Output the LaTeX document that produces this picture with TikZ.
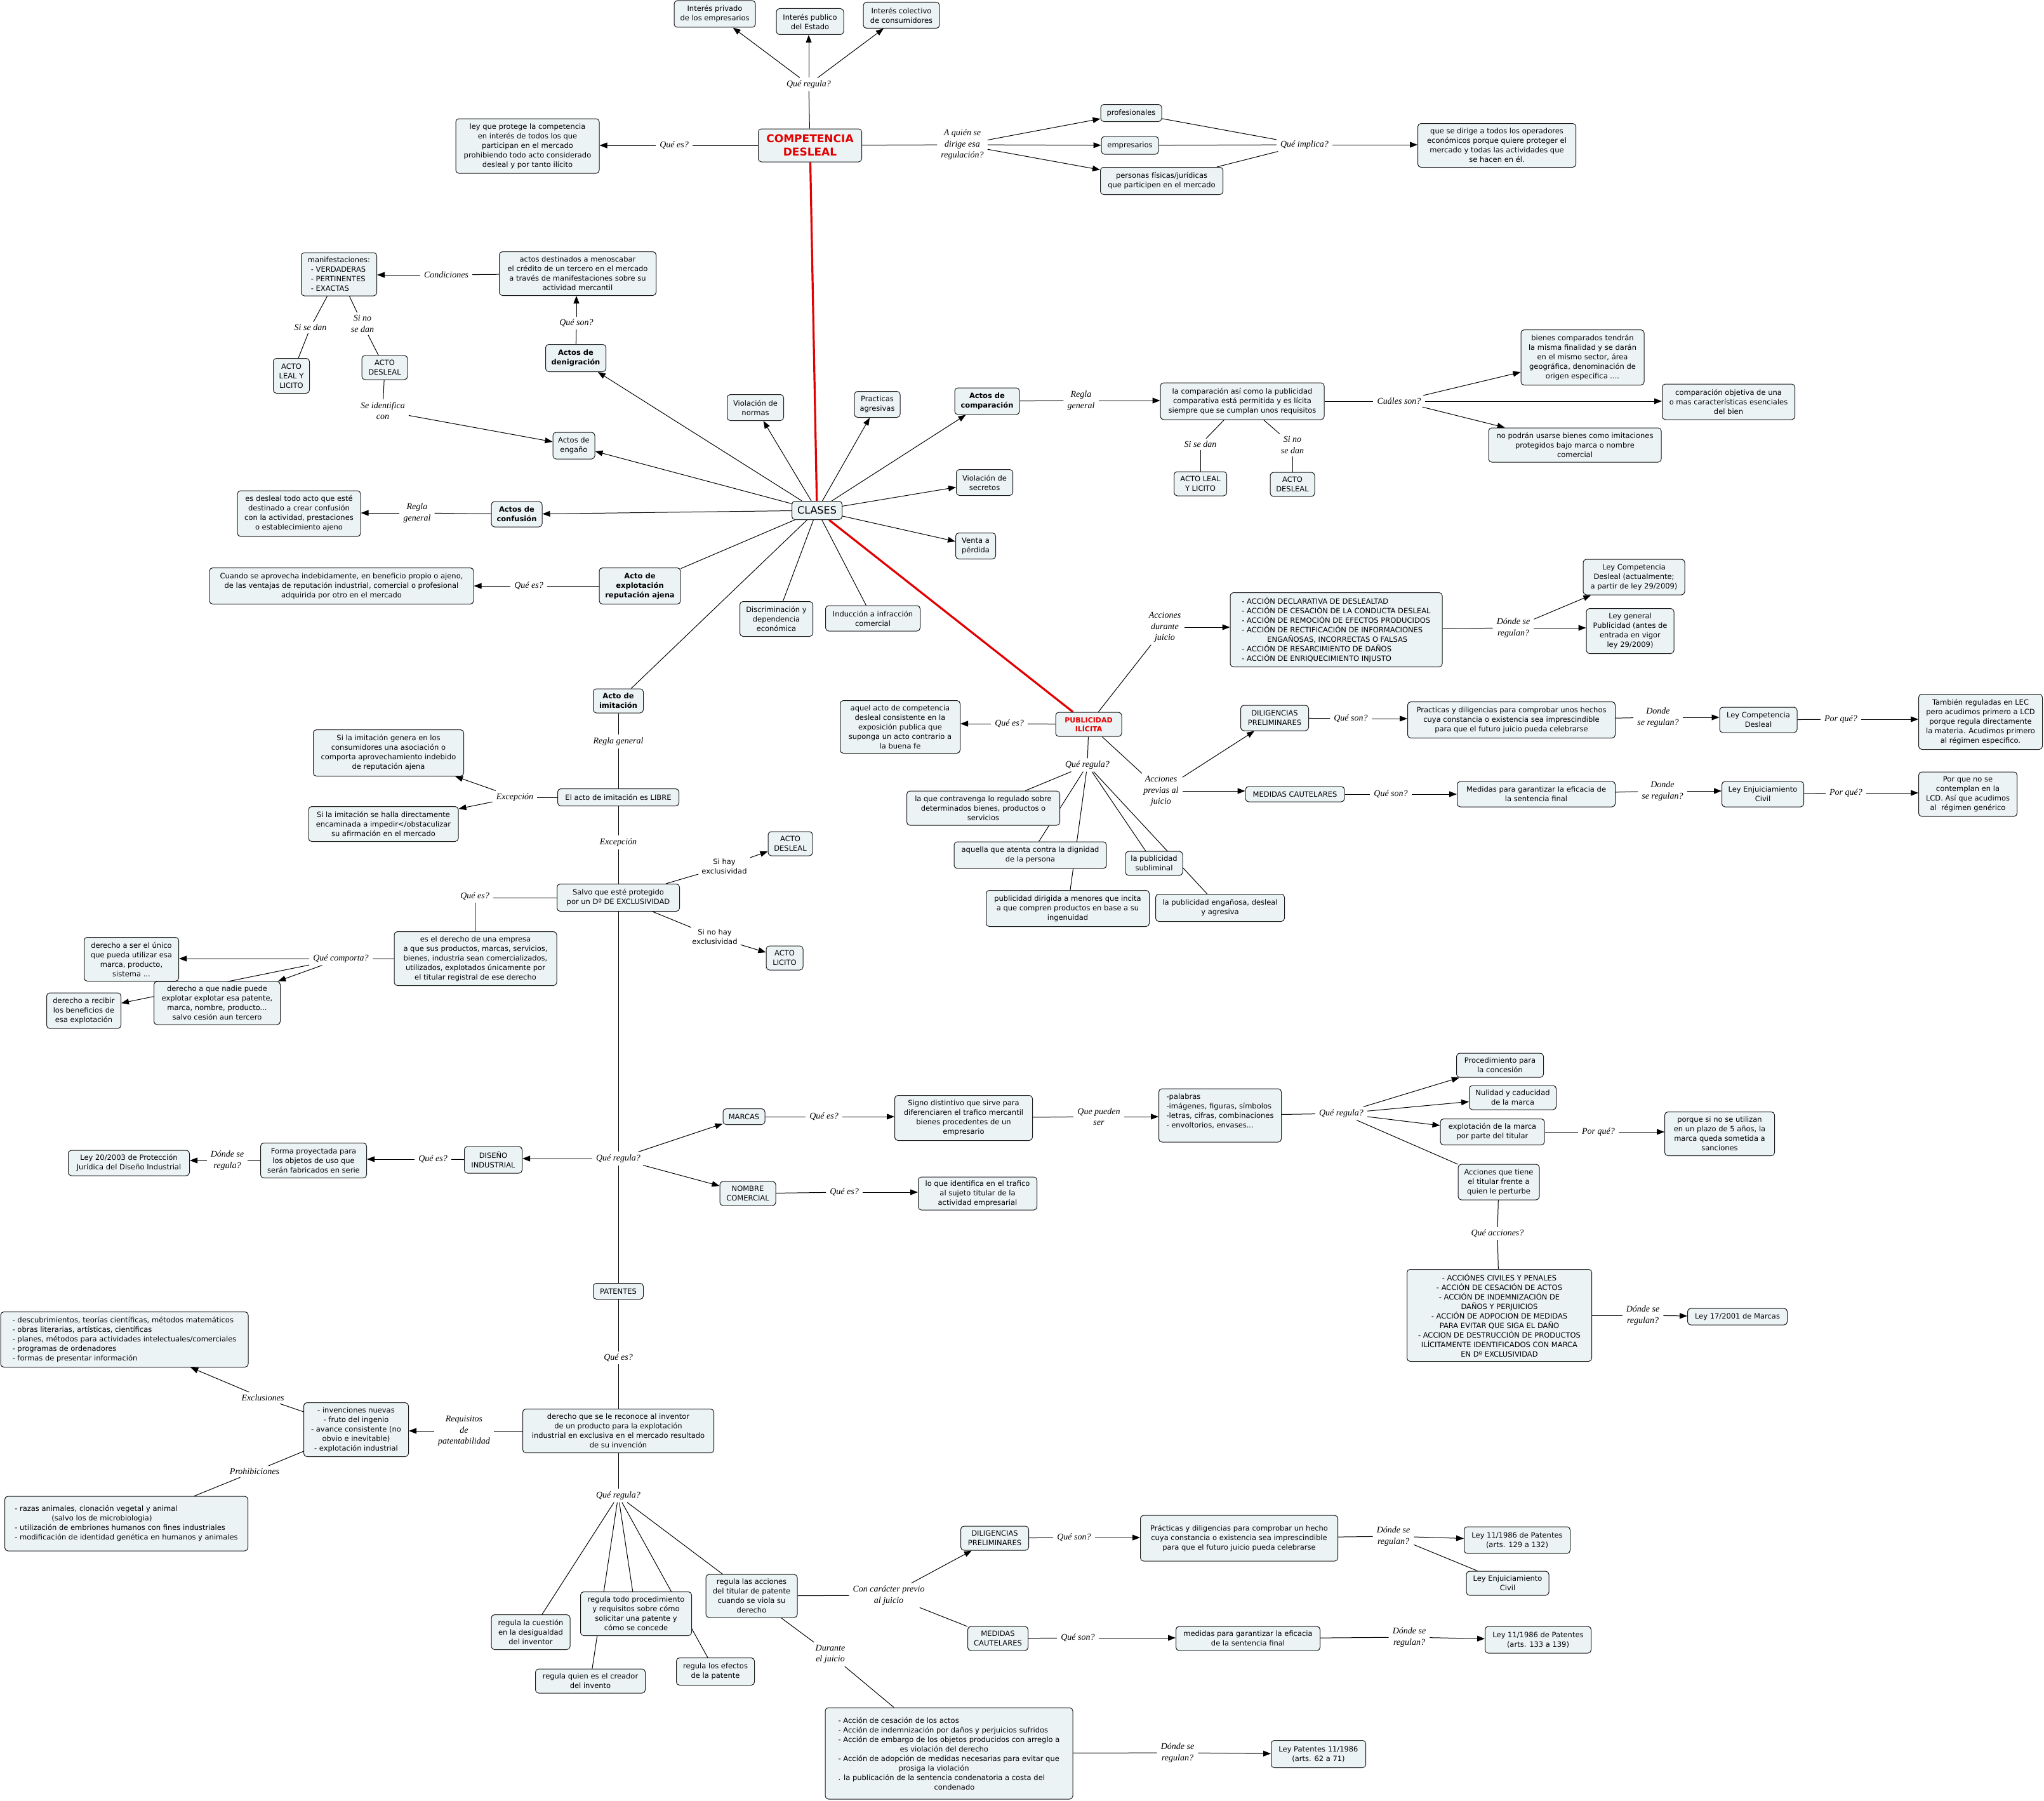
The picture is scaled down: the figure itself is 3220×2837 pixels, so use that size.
\documentclass[tikz,border=0pt]{standalone}
\usepackage{fontspec}
\newfontfamily\vfont{DejaVu Sans}
\newfontfamily\lfont{Liberation Serif}
\usetikzlibrary{arrows.meta}
\definecolor{boxfill}{RGB}{236,243,245}
\definecolor{mred}{RGB}{226,0,0}
\pgfdeclarelayer{edges}
\pgfsetlayers{edges,main}
\tikzset{
 bx/.style={draw=black!90, fill=boxfill, rounded corners=5pt, line width=1pt, align=center, inner xsep=3pt, inner ysep=2pt, font=\vfont\fontsize{11.5}{15}\selectfont},
 bb/.style={bx, font=\vfont\bfseries\fontsize{11.5}{15}\selectfont},
 sz/.style 2 args={minimum width=#1pt, minimum height=#2pt},
 lb/.style={align=center, inner xsep=6pt, inner ysep=4pt, font=\lfont\itshape\fontsize{14}{17.5}\selectfont},
 sl/.style={align=center, inner xsep=5pt, inner ysep=3pt, font=\vfont\fontsize{11.5}{15}\selectfont},
 ln/.style={line width=1pt},
 ar/.style={line width=1pt, -{Triangle[length=12pt,width=9pt]}},
 rl/.style={line width=3.2pt, draw=mred},
}
\begin{document}
\begin{tikzpicture}[x=1pt,y=-1pt]
\useasboundingbox (0,0) rectangle (3220,2837);

% ---------- top ----------
\node[bx, sz={163}{52}, font=\vfont\bfseries\fontsize{17}{21}\selectfont, text=mred] (comp) at (1276,229) {COMPETENCIA\\DESLEAL};
\node[lb] (qreg1) at (1274,133) {Qué regula?};
\node[bx, sz={128}{42}] (ipriv) at (1126,22) {Interés privado\\de los empresarios};
\node[bx, sz={106}{41}] (ipub) at (1276,34) {Interés publico\\del Estado};
\node[bx, sz={120}{41}] (icol) at (1420,24) {Interés colectivo\\de consumidores};
\node[lb] (quees1) at (1062,229) {Qué es?};
\node[bx, sz={226}{86}] (ley) at (831,230) {ley que protege la competencia\\en interés de todos los que\\participan en el mercado\\prohibiendo todo acto considerado\\desleal y por tanto ilícito};
\node[lb] (aquien) at (1516,228) {A quién se\\dirige esa\\regulación?};
\node[bx, sz={96}{27}] (prof) at (1782,178) {profesionales};
\node[bx, sz={90}{28}] (empr) at (1780,229) {empresarios};
\node[bx, sz={193}{43}] (pers) at (1830,285) {personas físicas/jurídicas\\que participen en el mercado};
\node[lb] (qimpl) at (2055,228) {Qué implica?};
\node[bx, sz={249}{69}] (oper) at (2358,229) {que se dirige a todos los operadores\\económicos porque quiere proteger el\\mercado y todas las actividades que\\se hacen en él.};

% ---------- CLASES ----------
\node[bx, sz={79}{29}, font=\vfont\fontsize{16}{19}\selectfont] (clases) at (1287,804) {CLASES};
\node[bb, sz={95}{43}] (deni) at (907,564) {Actos de\\denigración};
\node[bx, sz={89}{41}] (viol) at (1190,642) {Violación de\\normas};
\node[bx, sz={72}{41}] (prac) at (1382,637) {Practicas\\agresivas};
\node[bb, sz={102}{42}] (acomp) at (1555,632) {Actos de\\comparación};
\node[bx, sz={66}{42}] (enga) at (904,702) {Actos de\\engaño};
\node[bx, sz={89}{41}] (secr) at (1551,760) {Violación de\\secretos};
\node[bb, sz={80}{40}] (conf) at (814,810) {Actos de\\confusión};
\node[bx, sz={63}{41}] (venta) at (1537,860) {Venta a\\pérdida};
\node[bb, sz={128}{57}] (explo) at (1008,923) {Acto de\\explotación\\reputación ajena};
\node[bx, sz={115}{55}] (disc) at (1223,975) {Discriminación y\\dependencia\\económica};
\node[bx, sz={149}{40}] (induc) at (1375,974) {Inducción a infracción\\comercial};
\node[bb, sz={79}{38}] (imit) at (974,1104) {Acto de\\imitación};

% denigración
\node[lb] (qson1) at (908,509) {Qué son?};
\node[bx, sz={247}{69}] (actdest) at (910,431) {actos destinados a menoscabar\\el crédito de un tercero en el mercado\\a través de manifestaciones sobre su\\actividad mercantil};
\node[lb] (cond) at (703,433) {Condiciones};
\node[bx, sz={119}{68}, align=left] (manif) at (534,432) {manifestaciones:\\\hspace*{5pt}- VERDADERAS\\\hspace*{5pt}- PERTINENTES\\\hspace*{5pt}- EXACTAS};
\node[lb] (sisedan1) at (489,516) {Si se dan};
\node[lb] (sino1) at (571,510) {Si no\\se dan};
\node[bx, sz={57}{55}] (leal1) at (459,592) {ACTO\\LEAL Y\\LICITO};
\node[bx, sz={72}{38}] (desl1) at (606,579) {ACTO\\DESLEAL};
\node[lb] (seid) at (603,647) {Se identifica\\con};

% confusión
\node[lb] (rg1) at (657,808) {Regla\\general};
\node[bx, sz={194}{72}] (esdes) at (471,809) {es desleal todo acto que esté\\destinado a crear confusión\\con la actividad, prestaciones\\o establecimiento ajeno};

% explotación
\node[lb] (quees2) at (833,923) {Qué es?};
\node[bx, sz={416}{57}] (cuando) at (538,923) {Cuando se aprovecha indebidamente, en beneficio propio o ajeno,\\de las ventajas de reputación industrial, comercial o profesional\\adquirida por otro en el mercado};

% comparación
\node[lb] (rg2) at (1703,631) {Regla\\general};
\node[bx, sz={258}{58}] (lacomp) at (1957,632) {la comparación así como la publicidad\\comparativa está permitida y es lícita\\siempre que se cumplan unos requisitos};
\node[lb] (cuales) at (2204,632) {Cuáles son?};
\node[bx, sz={194}{87}] (bienes) at (2493,563) {bienes comparados tendrán\\la misma finalidad y se darán\\en el mismo sector, área\\geográfica, denominación de\\origen especifica ....};
\node[bx, sz={209}{56}] (compobj) at (2723,633) {comparación objetiva de una\\o mas características esenciales\\del bien};
\node[bx, sz={272}{54}] (nopod) at (2481,701) {no podrán usarse bienes como imitaciones\\protegidos bajo marca o nombre\\comercial};
\node[lb] (sisedan2) at (1891,700) {Si se dan};
\node[lb] (sino2) at (2036,701) {Si no\\se dan};
\node[bx, sz={83}{38}] (leal2) at (1891,762) {ACTO LEAL\\Y LICITO};
\node[bx, sz={70}{38}] (desl2) at (2036,763) {ACTO\\DESLEAL};

% imitación
\node[lb] (rg3) at (974,1168) {Regla general};
\node[bx, sz={191}{27}] (libre) at (974,1256) {El acto de imitación es LIBRE};
\node[lb] (exc1) at (811,1256) {Excepción};
\node[bx, sz={237}{73}] (sigen) at (612,1186) {Si la imitación genera en los\\consumidores una asociación o\\comporta aprovechamiento indebido\\de reputación ajena};
\node[bx, sz={236}{55}] (sihal) at (604,1298) {Si la imitación se halla directamente\\encaminada a impedir</obstaculizar\\su afirmación en el mercado};
\node[lb] (exc2) at (974,1327) {Excepción};
\node[bx, sz={193}{43}] (salvo) at (974,1414) {Salvo que esté protegido\\por un Dº DE EXCLUSIVIDAD};
\node[sl] (sihay) at (1141,1365) {Si hay\\exclusividad};
\node[bx, sz={70}{38}] (desl3) at (1245,1329) {ACTO\\DESLEAL};
\node[sl] (sinohay) at (1126,1476) {Si no hay\\exclusividad};
\node[bx, sz={58}{38}] (licito) at (1236,1509) {ACTO\\LICITO};
\node[lb] (quees3) at (748,1412) {Qué es?};
\node[bx, sz={256}{85}] (esder) at (749,1510) {es el derecho de una empresa\\a que sus productos, marcas, servicios,\\bienes, industria sean comercializados,\\utilizados, explotados únicamente por\\el titular registral de ese derecho};
\node[lb] (qcomp) at (537,1510) {Qué comporta?};
\node[bx, sz={149}{69}] (unico) at (207,1511) {derecho a ser el único\\que pueda utilizar esa\\marca, producto,\\sistema ...};
\node[bx, sz={199}{68}] (nadie) at (342,1580) {derecho a que nadie puede\\explotar explotar esa patente,\\marca, nombre, producto...\\salvo cesión aun tercero};
\node[bx, sz={117}{56}] (recibir) at (132,1592) {derecho a recibir\\los beneficios de\\esa explotación};

\node[lb] (qreg2) at (974,1825) {Qué regula?};
\node[bx, sz={91}{42}] (diseno) at (777,1827) {DISEÑO\\INDUSTRIAL};
\node[lb] (quees4) at (682,1826) {Qué es?};
\node[bx, sz={167}{55}] (forma) at (494,1828) {Forma proyectada para\\los objetos de uso que\\serán fabricados en serie};
\node[lb] (donde1) at (358,1828) {Dónde se\\regula?};
\node[bx, sz={191}{40}] (ley20) at (203,1832) {Ley 20/2003 de Protección\\Jurídica del Diseño Industrial};

% marcas
\node[bx, sz={66}{25}] (marcas) at (1172,1759) {MARCAS};
\node[lb] (quees5) at (1298,1759) {Qué es?};
\node[bx, sz={217}{71}] (signo) at (1518,1761) {Signo distintivo que sirve para\\diferenciaren el trafico mercantil\\bienes procedentes de un\\empresario};
\node[lb] (pueden) at (1731,1759) {Que pueden\\ser};
\node[bx, sz={193}{84}, align=left] (palab) at (1922,1757) {-palabras\\-imágenes, figuras, símbolos\\-letras, cifras, combinaciones\\- envoltorios, envases...\\~};
\node[lb] (qreg3) at (2113,1754) {Qué regula?};
\node[bx, sz={137}{38}] (proc) at (2363,1678) {Procedimiento para\\la concesión};
\node[bx, sz={137}{38}] (nul) at (2383,1729) {Nulidad y caducidad\\de la marca};
\node[bx, sz={164}{41}] (expl) at (2351,1783) {explotación de la marca\\por parte del titular};
\node[bx, sz={128}{56}] (acctit) at (2361,1862) {Acciones que tiene\\el titular frente a\\quien le perturbe};
\node[lb] (porq1) at (2518,1783) {Por qué?};
\node[bx, sz={173}{69}] (porque) at (2709,1786) {porque si no se utilizan\\en un plazo de 5 años, la\\marca queda sometida a\\sanciones};
\node[lb] (qacc) at (2359,1943) {Qué acciones?};
\node[bx, sz={291}{145}] (accciv) at (2362,2072) {- ACCIÓNES CIVILES Y PENALES\\- ACCIÓN DE CESACIÓN DE ACTOS\\- ACCIÓN DE INDEMNIZACIÓN DE\\DAÑOS Y PERJUICIOS\\- ACCIÓN DE ADPOCION DE MEDIDAS\\PARA EVITAR QUE SIGA EL DAÑO\\- ACCION DE DESTRUCCIÓN DE PRODUCTOS\\ILÍCITAMENTE IDENTIFICADOS CON MARCA\\EN Dº EXCLUSIVIDAD};
\node[lb] (donde2) at (2588,2072) {Dónde se\\regulan?};
\node[bx, sz={157}{26}] (ley17) at (2737,2074) {Ley 17/2001 de Marcas};

% nombre comercial
\node[bx, sz={88}{38}] (nombre) at (1178,1880) {NOMBRE\\COMERCIAL};
\node[lb] (quees6) at (1330,1878) {Qué es?};
\node[bx, sz={187}{52}] (loque) at (1540,1880) {lo que identifica en el trafico\\al sujeto titular de la\\actividad empresarial};

% patentes
\node[bx, sz={79}{25}] (pat) at (974,2034) {PATENTES};
\node[lb] (quees7) at (974,2139) {Qué es?};
\node[bx, sz={301}{69}] (dpat) at (974,2254) {derecho que se le reconoce al inventor\\de un producto para la explotación\\industrial en exclusiva en el mercado resultado\\de su invención};
\node[lb] (req) at (731,2254) {Requisitos\\de\\patentabilidad};
\node[bx, sz={165}{85}] (inv) at (561,2252) {- invenciones nuevas\\- fruto del ingenio\\- avance consistente (no\\obvio e inevitable)\\- explotación industrial};
\node[lb] (excl) at (414,2202) {Exclusiones};
\node[bx, sz={390}{87}, align=left] (desc) at (196,2110) {- descubrimientos, teorías científicas, métodos matemáticos\\- obras literarias, artísticas, científicas\\- planes, métodos para actividades intelectuales/comerciales\\- programas de ordenadores\\- formas de presentar información};
\node[lb] (prohib) at (401,2318) {Prohibiciones};
\node[bx, sz={383}{86}, align=left] (razas) at (199,2400) {- razas animales, clonación vegetal y animal\\\hspace*{58pt}(salvo los de microbiologia)\\- utilización de embriones humanos con fines industriales\\- modificación de identidad genética en humanos y animales};
\node[lb] (qreg4) at (974,2356) {Qué regula?};
\node[bx, sz={124}{55}] (cuest) at (836,2571) {regula la cuestión\\en la desigualdad\\del inventor};
\node[bx, sz={175}{69}] (todo) at (1002,2542) {regula todo procedimiento\\y requisitos sobre cómo\\solicitar una patente y\\cómo se concede};
\node[bx, sz={173}{38}] (quien) at (930,2648) {regula quien es el creador\\del invento};
\node[bx, sz={123}{43}] (efect) at (1127,2633) {regula los efectos\\de la patente};
\node[bx, sz={144}{68}] (acc) at (1184,2514) {regula las acciones\\del titular de patente\\cuando se viola su\\derecho};
\node[lb] (conc) at (1400,2513) {Con carácter previo\\al juicio};
\node[lb] (durante) at (1308,2606) {Durante\\el juicio};
\node[bx, sz={107}{38}] (dilp) at (1567,2423) {DILIGENCIAS\\PRELIMINARES};
\node[bx, sz={95}{38}] (medp) at (1572,2581) {MEDIDAS\\CAUTELARES};
\node[bx, sz={390}{144}, align=left] (acces) at (1495,2762) {- Acción de cesación de los actos\\- Acción de indemnización por daños y perjuicios sufridos\\- Acción de embargo de los objetos producidos con arreglo a\\\hspace*{97pt}es violación del derecho\\- Acción de adopción de medidas necesarias para evitar que\\\hspace*{95pt}prosiga la violación\\. la publicación de la sentencia condenatoria a costa del\\\hspace*{151pt}condenado};
\node[lb] (qson2) at (1692,2422) {Qué son?};
\node[bx, sz={311}{72}] (pract) at (1952,2423) {Prácticas y diligencias para comprobar un hecho\\cuya constancia o existencia sea imprescindible\\para que el futuro juicio pueda celebrarse};
\node[lb] (donde3) at (2195,2420) {Dónde se\\regulan?};
\node[bx, sz={167}{42}] (ley11a) at (2390,2426) {Ley 11/1986 de Patentes\\(arts. 129 a 132)};
\node[bx, sz={130}{38}] (lec2) at (2375,2494) {Ley Enjuiciamiento\\Civil};
\node[lb] (qson3) at (1698,2580) {Qué son?};
\node[bx, sz={227}{38}] (medg) at (1966,2581) {medidas para garantizar la eficacia\\de la sentencia final};
\node[lb] (donde4) at (2220,2579) {Dónde se\\regulan?};
\node[bx, sz={167}{42}] (ley11b) at (2423,2583) {Ley 11/1986 de Patentes\\(arts. 133 a 139)};
\node[lb] (donde5) at (1855,2761) {Dónde se\\regulan?};
\node[bx, sz={149}{43}] (leypat) at (2077,2763) {Ley Patentes 11/1986\\(arts. 62 a 71)};

% publicidad ilícita
\node[bx, sz={104}{38}, font=\vfont\bfseries\fontsize{11}{14}\selectfont, text=mred] (pub) at (1715,1141) {PUBLICIDAD\\ILÍCITA};
\node[lb] (quees8) at (1590,1140) {Qué es?};
\node[bx, sz={189}{83}] (aquel) at (1418,1145) {aquel acto de competencia\\desleal consistente en la\\exposición publica que\\suponga un acto contrario a\\la buena fe};
\node[lb] (qreg5) at (1713,1205) {Qué regula?};
\node[bx, sz={241}{54}] (contra) at (1549,1273) {la que contravenga lo regulado sobre\\determinados bienes, productos o\\servicios};
\node[bx, sz={240}{42}] (digni) at (1623,1347) {aquella que atenta contra la dignidad\\de la persona};
\node[bx, sz={257}{57}] (menores) at (1682,1431) {publicidad dirigida a menores que incita\\a que compren productos en base a su\\ingenuidad};
\node[bx, sz={90}{38}] (sublim) at (1818,1360) {la publicidad\\subliminal};
\node[bx, sz={203}{43}] (engan) at (1922,1430) {la publicidad engañosa, desleal\\y agresiva};
\node[lb] (durj) at (1835,988) {Acciones\\durante\\juicio};
\node[bx, sz={334}{117}, align=left] (acciones) at (2105,992) {- ACCIÓN DECLARATIVA DE DESLEALTAD\\- ACCIÓN DE CESACIÓN DE LA CONDUCTA DESLEAL\\- ACCIÓN DE REMOCIÓN DE EFECTOS PRODUCIDOS\\- ACCIÓN DE RECTIFICACIÓN DE INFORMACIONES\\\hspace*{40pt}ENGAÑOSAS, INCORRECTAS O FALSAS\\- ACCIÓN DE RESARCIMIENTO DE DAÑOS\\- ACCIÓN DE ENRIQUECIMIENTO INJUSTO};
\node[lb] (donde6) at (2384,989) {Dónde se\\regulan?};
\node[bx, sz={160}{56}] (leycd) at (2574,909) {Ley Competencia\\Desleal (actualmente;\\a partir de ley 29/2009)};
\node[bx, sz={138}{71}] (leygp) at (2568,994) {Ley general\\Publicidad (antes de\\entrada en vigor\\ley 29/2009)};
\node[lb] (prev) at (1829,1246) {Acciones\\previas al\\juicio};
\node[bx, sz={107}{40}] (dil) at (2008,1131) {DILIGENCIAS\\PRELIMINARES};
\node[bx, sz={156}{24}] (med) at (2040,1251) {MEDIDAS CAUTELARES};
\node[lb] (qson4) at (2128,1132) {Qué son?};
\node[bx, sz={327}{57}] (pracd) at (2381,1134) {Practicas y diligencias para comprobar unos hechos\\cuya constancia o existencia sea imprescindible\\para que el futuro juicio pueda celebrarse};
\node[lb] (donde7) at (2612,1130) {Donde\\se regulan?};
\node[bx, sz={122}{40}] (lcd) at (2770,1134) {Ley Competencia\\Desleal};
\node[lb] (porq2) at (2900,1133) {Por qué?};
\node[bx, sz={195}{87}] (tamb) at (3120,1137) {También reguladas en LEC\\pero acudimos primero a LCD\\porque regula directamente\\la materia. Acudimos primero\\al régimen especifico.};
\node[lb] (qson5) at (2191,1251) {Qué son?};
\node[bx, sz={249}{40}] (medgar) at (2420,1251) {Medidas para garantizar la eficacia de\\la sentencia final};
\node[lb] (donde8) at (2619,1246) {Donde\\se regulan?};
\node[bx, sz={129}{40}] (lec) at (2777,1251) {Ley Enjuiciamiento\\Civil};
\node[lb] (porq3) at (2908,1249) {Por qué?};
\node[bx, sz={155}{70}] (porque2) at (3100,1251) {Por que no se\\contemplan en la\\LCD. Así que acudimos\\al~ régimen genérico};

% ---------- connectors ----------
\begin{pgfonlayer}{edges}
\draw[ln] (comp) -- (qreg1);
\draw[ar] (qreg1) -- (ipriv);
\draw[ar] (qreg1) -- (qreg1 |- ipub.south);
\draw[ar] (qreg1) -- (icol);
\draw[ln] (comp) -- (quees1);
\draw[ar] (quees1) -- (quees1 -| ley.east);
\draw[ln] (comp) -- (aquien);
\draw[ar] (aquien) -- (prof);
\draw[ar] (aquien) -- (empr);
\draw[ar] (aquien) -- (pers);
\draw[ln] (prof) -- (qimpl);
\draw[ln] (empr) -- (qimpl);
\draw[ln] (pers) -- (qimpl);
\draw[ar] (qimpl) -- (qimpl -| oper.west);
\draw[rl] (comp) -- (clases);
\draw[rl] (clases) -- (pub);
\draw[ar] (clases) -- (deni);
\draw[ar] (clases) -- (viol);
\draw[ar] (clases) -- (prac);
\draw[ar] (clases) -- (acomp);
\draw[ar] (clases) -- (enga);
\draw[ar] (clases) -- (secr);
\draw[ar] (clases) -- (conf);
\draw[ar] (clases) -- (venta);
\draw[ln] (clases) -- (explo);
\draw[ln] (clases) -- (disc);
\draw[ln] (clases) -- (induc);
\draw[ln] (clases) -- (imit);
% denigración
\draw[ln] (deni) -- (qson1);
\draw[ar] (qson1) -- (qson1 |- actdest.south);
\draw[ln] (actdest) -- (cond);
\draw[ar] (cond) -- (cond -| manif.east);
\draw[ln] (manif) -- (sisedan1);
\draw[ln] (sisedan1) -- (leal1);
\draw[ln] (manif) -- (sino1);
\draw[ln] (sino1) -- (desl1);
\draw[ln] (desl1) -- (seid);
\draw[ar] (seid) -- (enga);
% confusión / explotación
\draw[ln] (conf) -- (rg1);
\draw[ar] (rg1) -- (rg1 -| esdes.east);
\draw[ln] (explo) -- (quees2);
\draw[ar] (quees2) -- (quees2 -| cuando.east);
% comparación
\draw[ln] (acomp) -- (rg2);
\draw[ar] (rg2) -- (rg2 -| lacomp.west);
\draw[ln] (lacomp) -- (cuales);
\draw[ar] (cuales) -- (bienes);
\draw[ar] (cuales) -- (cuales -| compobj.west);
\draw[ar] (cuales) -- (nopod);
\draw[ln] (lacomp) -- (sisedan2);
\draw[ln] (sisedan2) -- (leal2);
\draw[ln] (lacomp) -- (sino2);
\draw[ln] (sino2) -- (desl2);
% imitación
\draw[ln] (imit) -- (rg3);
\draw[ln] (rg3) -- (libre);
\draw[ln] (libre) -- (exc1);
\draw[ar] (exc1) -- (sigen);
\draw[ar] (exc1) -- (sihal);
\draw[ln] (libre) -- (exc2);
\draw[ln] (exc2) -- (salvo);
\draw[ln] (salvo) -- (sihay);
\draw[ar] (sihay) -- (desl3);
\draw[ln] (salvo) -- (sinohay);
\draw[ar] (sinohay) -- (licito);
\draw[ln] (salvo) -- (salvo.west -| quees3.east);
\draw[ln] (quees3) -- (quees3 |- esder.north);
\draw[ln] (esder) -- (qcomp);
\draw[ar] (qcomp) -- (qcomp -| unico.east);
\draw[ar] (qcomp) -- (nadie);
\draw[ar] (qcomp) -- (recibir);
\draw[ln] (salvo) -- (qreg2);
\draw[ar] (qreg2) -- (qreg2 -| diseno.east);
\draw[ar] (qreg2) -- (marcas);
\draw[ar] (qreg2) -- (nombre);
\draw[ln] (qreg2) -- (pat);
\draw[ln] (diseno) -- (quees4);
\draw[ar] (quees4) -- (quees4 -| forma.east);
\draw[ln] (forma) -- (donde1);
\draw[ar] (donde1) -- (donde1 -| ley20.east);
% marcas
\draw[ln] (marcas) -- (quees5);
\draw[ar] (quees5) -- (quees5 -| signo.west);
\draw[ln] (signo) -- (pueden);
\draw[ar] (pueden) -- (pueden -| palab.west);
\draw[ln] (palab) -- (qreg3);
\draw[ar] (qreg3) -- (proc);
\draw[ar] (qreg3) -- (nul);
\draw[ar] (qreg3) -- (expl);
\draw[ln] (qreg3) -- (acctit);
\draw[ln] (expl) -- (porq1);
\draw[ar] (porq1) -- (porq1 -| porque.west);
\draw[ln] (acctit) -- (qacc);
\draw[ln] (qacc) -- (accciv);
\draw[ln] (accciv) -- (donde2);
\draw[ar] (donde2) -- (ley17);
\draw[ln] (nombre) -- (quees6);
\draw[ar] (quees6) -- (quees6 -| loque.west);
% patentes
\draw[ln] (pat) -- (quees7);
\draw[ln] (quees7) -- (dpat);
\draw[ln] (dpat) -- (req);
\draw[ar] (req) -- (req -| inv.east);
\draw[ln] (inv) -- (excl);
\draw[ar] (excl) -- (desc);
\draw[ln] (inv) -- (prohib);
\draw[ln] (prohib) -- (razas);
\draw[ln] (dpat) -- (qreg4);
\draw[ln] (qreg4) -- (cuest);
\draw[ln] (qreg4) -- (quien);
\draw[ln] (qreg4) -- (todo);
\draw[ln] (qreg4) -- (efect);
\draw[ln] (qreg4) -- (acc);
\draw[ln] (acc) -- (conc);
\draw[ar] (conc) -- (dilp);
\draw[ln] (conc) -- (medp);
\draw[ln] (acc) -- (durante);
\draw[ln] (durante) -- (acces);
\draw[ln] (dilp) -- (qson2);
\draw[ar] (qson2) -- (qson2 -| pract.west);
\draw[ln] (pract) -- (donde3);
\draw[ar] (donde3) -- (ley11a);
\draw[ln] (donde3) -- (lec2);
\draw[ln] (medp) -- (qson3);
\draw[ar] (qson3) -- (qson3 -| medg.west);
\draw[ln] (medg) -- (donde4);
\draw[ar] (donde4) -- (ley11b);
\draw[ln] (acces) -- (donde5);
\draw[ar] (donde5) -- (leypat);
% publicidad
\draw[ln] (pub) -- (quees8);
\draw[ar] (quees8) -- (quees8 -| aquel.east);
\draw[ln] (pub) -- (qreg5);
\draw[ln] (qreg5) -- (contra);
\draw[ln] (qreg5) -- (digni);
\draw[ln] (qreg5) -- (menores);
\draw[ln] (qreg5) -- (sublim);
\draw[ln] (qreg5) -- (engan);
\draw[ln] (pub) -- (durj);
\draw[ar] (durj) -- (durj -| acciones.west);
\draw[ln] (acciones) -- (donde6);
\draw[ar] (donde6) -- (leycd);
\draw[ar] (donde6) -- (donde6 -| leygp.west);
\draw[ln] (pub) -- (prev);
\draw[ar] (prev) -- (dil);
\draw[ar] (prev) -- (prev -| med.west);
\draw[ln] (dil) -- (qson4);
\draw[ar] (qson4) -- (qson4 -| pracd.west);
\draw[ln] (pracd) -- (donde7);
\draw[ar] (donde7) -- (donde7 -| lcd.west);
\draw[ln] (lcd) -- (porq2);
\draw[ar] (porq2) -- (porq2 -| tamb.west);
\draw[ln] (med) -- (qson5);
\draw[ar] (qson5) -- (qson5 -| medgar.west);
\draw[ln] (medgar) -- (donde8);
\draw[ar] (donde8) -- (donde8 -| lec.west);
\draw[ln] (lec) -- (porq3);
\draw[ar] (porq3) -- (porq3 -| porque2.west);
\end{pgfonlayer}
\end{tikzpicture}
\end{document}
